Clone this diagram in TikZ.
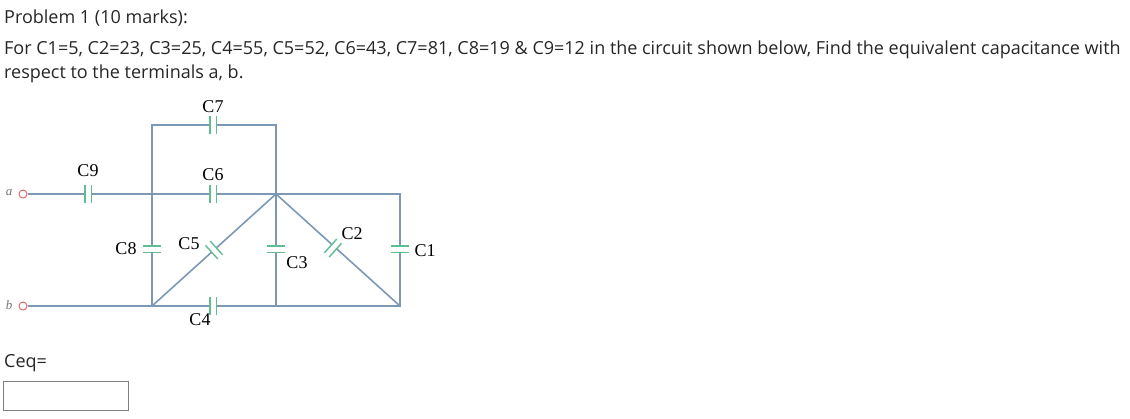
\documentclass[tikz,border=0pt]{standalone}
\usepackage{fontspec}
\setmainfont{Open Sans}
\newfontfamily\serifc{Liberation Serif}
\definecolor{wire}{RGB}{125,152,180}
\definecolor{plate}{RGB}{95,190,145}
\definecolor{term}{RGB}{215,110,110}
\begin{document}
\begin{tikzpicture}[x=1pt,y=-1pt,
  w/.style={draw=wire,line width=1.6pt},
  capbox/.style={inner sep=0,minimum width=6pt,minimum height=18pt,fill=white},
  pl/.style={draw=plate,line width=1.4pt},
  lab/.style={font=\serifc\fontsize{18}{18}\selectfont,inner sep=1pt},
  txt/.style={anchor=base west,inner sep=0,font=\fontsize{18}{21}\selectfont,text=black!85}]
\useasboundingbox (0,0) rectangle (1130,418);
\node[txt] (t1) at (4,23) {Problem 1 (10 marks):};
\node[txt] (t2) at (4,54) {For C1=5, C2=23, C3=25, C4=55, C5=52, C6=43, C7=81, C8=19 \& C9=12 in the circuit shown below, Find the equivalent capacitance with};
\node[txt] (t3) at (4,78) {respect to the terminals a, b.};
\node[txt] (ceq) at (4,367) {Ceq=};
\node[draw=black!50,line width=0.8pt,minimum width=125pt,minimum height=29pt,anchor=north west,inner sep=0] (box) at (3,381) {};
% terminals
\node[draw=term,circle,minimum size=8pt,inner sep=0,line width=1pt] (a) at (23,194) {};
\node[draw=term,circle,minimum size=8pt,inner sep=0,line width=1pt] (b) at (23,306) {};
\node[font=\serifc\itshape\fontsize{13}{13}\selectfont,text=black!55] (la) at (9,193) {a};
\node[font=\serifc\itshape\fontsize{13}{13}\selectfont,text=black!55] (lb) at (9,305) {b};
\coordinate (TL) at (152,125); \coordinate (TR) at (276,125);
\coordinate (ML) at (152,194); \coordinate (MM) at (276,194); \coordinate (MR) at (400,194);
\coordinate (BL) at (152,306); \coordinate (BM) at (276,306); \coordinate (BR) at (400,306);
\draw[w] (a) -- (MR) -- (BR) -- (b);
\draw[w] (BL) -- (TL) -- (TR) -- (BM);
\draw[w] (BL) -- (MM) -- (BR);
% capacitors
\newcommand\capac[3]{\node[capbox,rotate=#3] (#1) at #2 {};
  \draw[pl] (#1.north west) -- (#1.south west) (#1.north east) -- (#1.south east);}
\capac{c9}{(88,194)}{0}
\capac{c7}{(213,125)}{0}
\capac{c6}{(213,194)}{0}
\capac{c4}{(213,306)}{0}
\capac{c8}{(152,249)}{90}
\capac{c3}{(276,249)}{90}
\capac{c1}{(400,249)}{90}
\capac{c5}{(214,250)}{42}
\capac{c2}{(333,248)}{-42}
\node[lab] (l9) at (88,171) {C9};
\node[lab] (l7) at (213,107) {C7};
\node[lab] (l6) at (213,175) {C6};
\node[lab] (l4) at (200,320) {C4};
\node[lab] (l8) at (126,249) {C8};
\node[lab] (l5) at (189,244) {C5};
\node[lab] (l3) at (297,263) {C3};
\node[lab] (l2) at (352,234) {C2};
\node[lab] (l1) at (425,251) {C1};
\end{tikzpicture}
\end{document}
